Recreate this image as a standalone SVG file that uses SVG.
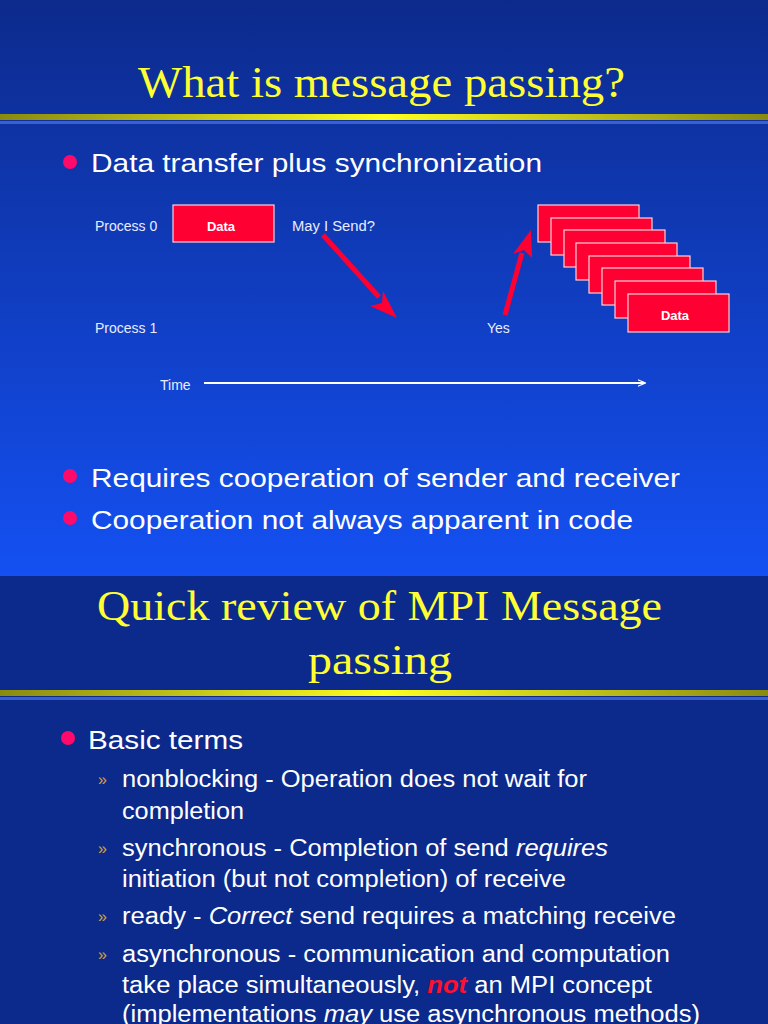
<svg xmlns="http://www.w3.org/2000/svg" width="768" height="1024" viewBox="0 0 768 1024">
<defs>
<linearGradient id="bg1" x1="0" y1="0" x2="0" y2="1"><stop offset="0" stop-color="#0c2a8c"/><stop offset="1" stop-color="#1450f2"/></linearGradient>
<linearGradient id="gold" x1="0" y1="0" x2="1" y2="0"><stop offset="0" stop-color="#8a8a10"/><stop offset="0.5" stop-color="#ffff20"/><stop offset="1" stop-color="#8a8a10"/></linearGradient>
<marker id="wa" viewBox="0 0 10 10" refX="9" refY="5" markerWidth="8" markerHeight="8" orient="auto" markerUnits="userSpaceOnUse"><path d="M0,1 L10,5 L0,9" fill="none" stroke="#fff" stroke-width="1.5"/></marker>
<style>
.t{font-family:"Liberation Serif",serif;fill:#ffff33}
.b{font-family:"Liberation Sans",Arial,sans-serif;fill:#fff;font-size:26px}
.s{font-family:"Liberation Sans",Arial,sans-serif;fill:#e8ecff;font-size:14px}
.box{fill:#ff0033;stroke:#ffd0d8;stroke-width:1.2}
.dl{font-family:"Liberation Sans",Arial,sans-serif;fill:#fff;font-size:13px;font-weight:bold}
.dot{fill:#ff0a6a}
.r{font-family:"Liberation Sans",Arial,sans-serif;fill:#d8a040;font-size:16px}
</style>
</defs>
<rect x="0" y="0" width="768" height="576" fill="url(#bg1)"/>
<rect x="0" y="576" width="768" height="448" fill="#0c2a8c"/>
<text class="t" x="138" y="97" font-size="44" textLength="487" lengthAdjust="spacingAndGlyphs">What is message passing?</text>
<rect x="0" y="114" width="768" height="6" fill="url(#gold)"/>
<rect x="0" y="121" width="768" height="3" fill="#3a60d0"/>
<circle class="dot" cx="70" cy="162" r="7"/>
<text class="b" x="91" y="172" textLength="451" lengthAdjust="spacingAndGlyphs">Data transfer plus synchronization</text>
<g id="labels">
<text class="s" x="95" y="231">Process 0</text>
<text class="s" x="95" y="333">Process 1</text>
<text class="s" x="292" y="231" textLength="83" lengthAdjust="spacingAndGlyphs">May I Send?</text>
<text class="s" x="487" y="333">Yes</text>
<text class="s" x="160" y="390">Time</text>
</g>
<g id="data0"><rect class="box" x="173" y="205" width="101" height="37"/><text class="dl" x="221" y="231" text-anchor="middle">Data</text></g>
<g id="stack">
<rect class="box" x="538" y="205" width="101" height="37"/>
<rect class="box" x="551" y="218" width="101" height="37"/>
<rect class="box" x="564" y="230" width="101" height="37"/>
<rect class="box" x="576" y="243" width="101" height="37"/>
<rect class="box" x="589" y="256" width="101" height="37"/>
<rect class="box" x="602" y="268" width="101" height="37"/>
<rect class="box" x="615" y="281" width="101" height="37"/>
<rect class="box" x="628" y="294" width="101" height="38"/>
<text class="dl" x="675" y="320" text-anchor="middle">Data</text>
</g>
<g id="connectors">
<line x1="204" y1="383" x2="645" y2="383" stroke="#fff" stroke-width="2" marker-end="url(#wa)"/>
<path d="M323,235 L379,297" stroke="#ff0033" stroke-width="5" fill="none"/>
<path d="M397,318 L370,306 L382,303 L383,291 Z" fill="#ff0033"/>
<path d="M505,315 L522,253" stroke="#ff0033" stroke-width="5" fill="none"/>
<path d="M531,230 L532,258 L524,250 L513,254 Z" fill="#ff0033"/>
</g>
<circle class="dot" cx="70" cy="476" r="7"/>
<text class="b" x="91" y="487" textLength="589" lengthAdjust="spacingAndGlyphs">Requires cooperation of sender and receiver</text>
<circle class="dot" cx="70" cy="518" r="7"/>
<text class="b" x="91" y="529" textLength="542" lengthAdjust="spacingAndGlyphs">Cooperation not always apparent in code</text>
<text class="t" x="97" y="620" font-size="42" textLength="565" lengthAdjust="spacingAndGlyphs">Quick review of MPI Message</text>
<text class="t" x="308" y="674" font-size="42" textLength="144" lengthAdjust="spacingAndGlyphs">passing</text>
<rect x="0" y="690" width="768" height="6" fill="url(#gold)"/>
<rect x="0" y="697" width="768" height="3" fill="#3a60d0"/>
<circle class="dot" cx="68" cy="738" r="7"/>
<text class="b" x="88" y="749" textLength="155" lengthAdjust="spacingAndGlyphs">Basic terms</text>
<g font-size="23" font-family="Liberation Sans,Arial,sans-serif" fill="#fff">
<text class="r" x="98" y="785">»</text>
<text x="122" y="787" textLength="465" lengthAdjust="spacingAndGlyphs">nonblocking - Operation does not wait for</text>
<text x="122" y="819" textLength="122" lengthAdjust="spacingAndGlyphs">completion</text>
<text class="r" x="98" y="854">»</text>
<text x="122" y="856" textLength="486" lengthAdjust="spacingAndGlyphs">synchronous - Completion of send <tspan font-style="italic">requires</tspan></text>
<text x="122" y="887" textLength="444" lengthAdjust="spacingAndGlyphs">initiation (but not completion) of receive</text>
<text class="r" x="98" y="922">»</text>
<text x="122" y="924" textLength="554" lengthAdjust="spacingAndGlyphs">ready - <tspan font-style="italic">Correct</tspan> send requires a matching receive</text>
<text class="r" x="98" y="960">»</text>
<text x="122" y="962" textLength="548" lengthAdjust="spacingAndGlyphs">asynchronous - communication and computation</text>
<text x="122" y="993" textLength="530" lengthAdjust="spacingAndGlyphs">take place simultaneously, <tspan font-style="italic" font-weight="bold" fill="#ff1030">not</tspan> an MPI concept</text>
<text x="122" y="1022" textLength="578" lengthAdjust="spacingAndGlyphs">(implementations <tspan font-style="italic">may</tspan> use asynchronous methods)</text>
</g>
</svg>
